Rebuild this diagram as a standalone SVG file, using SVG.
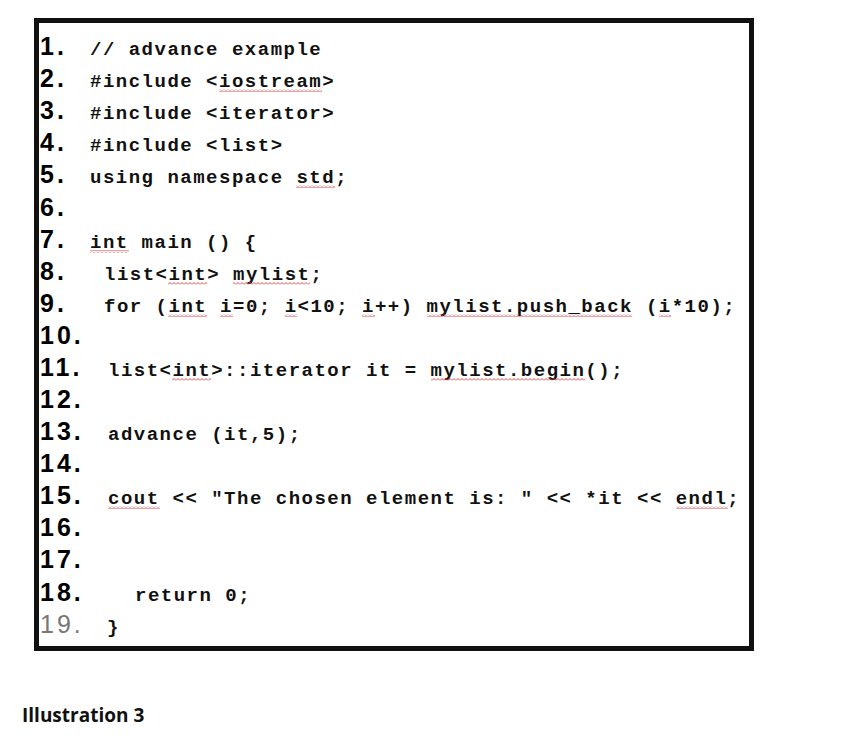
<svg xmlns="http://www.w3.org/2000/svg" width="848" height="740" viewBox="0 0 848 740">
<defs>
<pattern id="wave" patternUnits="userSpaceOnUse" width="4" height="3"><path d="M0 2.5 L2 0.5 L4 2.5" fill="none" stroke="#d33" stroke-width="0.9"/></pattern>
<style>
.n{font-family:"Liberation Sans",Arial,sans-serif;font-weight:bold;font-size:25px;fill:#000;letter-spacing:3px}
.c{font-family:"Liberation Mono","Courier New",monospace;font-weight:bold;font-size:19px;fill:#111;letter-spacing:1.5px;white-space:pre}
.w{fill:url(#wave)}
</style>
</defs>
<rect width="848" height="740" fill="#fff"/>
<rect x="36.5" y="20.5" width="715" height="628" fill="#fff" stroke="#111" stroke-width="5"/>
<g class="n">
<text x="40" y="55">1.</text><text x="40" y="87">2.</text><text x="40" y="119">3.</text><text x="40" y="151">4.</text><text x="40" y="183">5.</text><text x="40" y="216">6.</text><text x="40" y="248">7.</text><text x="40" y="280">8.</text><text x="40" y="312">9.</text><text x="40" y="344">10.</text><text x="40" y="376">11.</text><text x="40" y="408">12.</text><text x="40" y="440">13.</text><text x="40" y="472">14.</text><text x="40" y="504">15.</text><text x="40" y="536">16.</text><text x="40" y="568">17.</text><text x="40" y="601">18.</text><text x="40" y="633" style="font-weight:normal;fill:#777">19.</text>
</g>
<g class="c">
<text x="90" y="55">// advance example</text>
<text x="90" y="87">#include &lt;iostream&gt;</text>
<text x="90" y="119">#include &lt;iterator&gt;</text>
<text x="90" y="151">#include &lt;list&gt;</text>
<text x="90" y="183">using namespace std;</text>
<text x="90" y="248">int main () {</text>
<text x="104" y="280">list&lt;int&gt; mylist;</text>
<text x="104" y="312">for (int i=0; i&lt;10; i++) mylist.push_back (i*10);</text>
<text x="108" y="376">list&lt;int&gt;::iterator it = mylist.begin();</text>
<text x="108" y="440">advance (it,5);</text>
<text x="108" y="504">cout &lt;&lt; "The chosen element is: " &lt;&lt; *it &lt;&lt; endl;</text>
<text x="135" y="601">return 0;</text>
<text x="107" y="633">}</text>
</g>
<g>
<rect class="w" x="219" y="89" width="103" height="3"/>
<rect class="w" x="296" y="185" width="39" height="3"/>
<rect class="w" x="90" y="250" width="39" height="3"/>
<rect class="w" x="168" y="282" width="39" height="3"/>
<rect class="w" x="233" y="282" width="77" height="3"/>
<rect class="w" x="168" y="314" width="39" height="3"/>
<rect class="w" x="220" y="314" width="13" height="3"/>
<rect class="w" x="285" y="314" width="12" height="3"/>
<rect class="w" x="362" y="314" width="13" height="3"/>
<rect class="w" x="427" y="314" width="205" height="3"/>
<rect class="w" x="659" y="314" width="12" height="3"/>
<rect class="w" x="172" y="378" width="39" height="3"/>
<rect class="w" x="431" y="378" width="154" height="3"/>
<rect class="w" x="108" y="506" width="52" height="3"/>
<rect class="w" x="676" y="506" width="52" height="3"/>
</g>
<text x="22" y="722" style="font-family:'Open Sans','Liberation Sans',sans-serif;font-weight:bold;font-size:19px;fill:#111">Illustration 3</text>
</svg>
